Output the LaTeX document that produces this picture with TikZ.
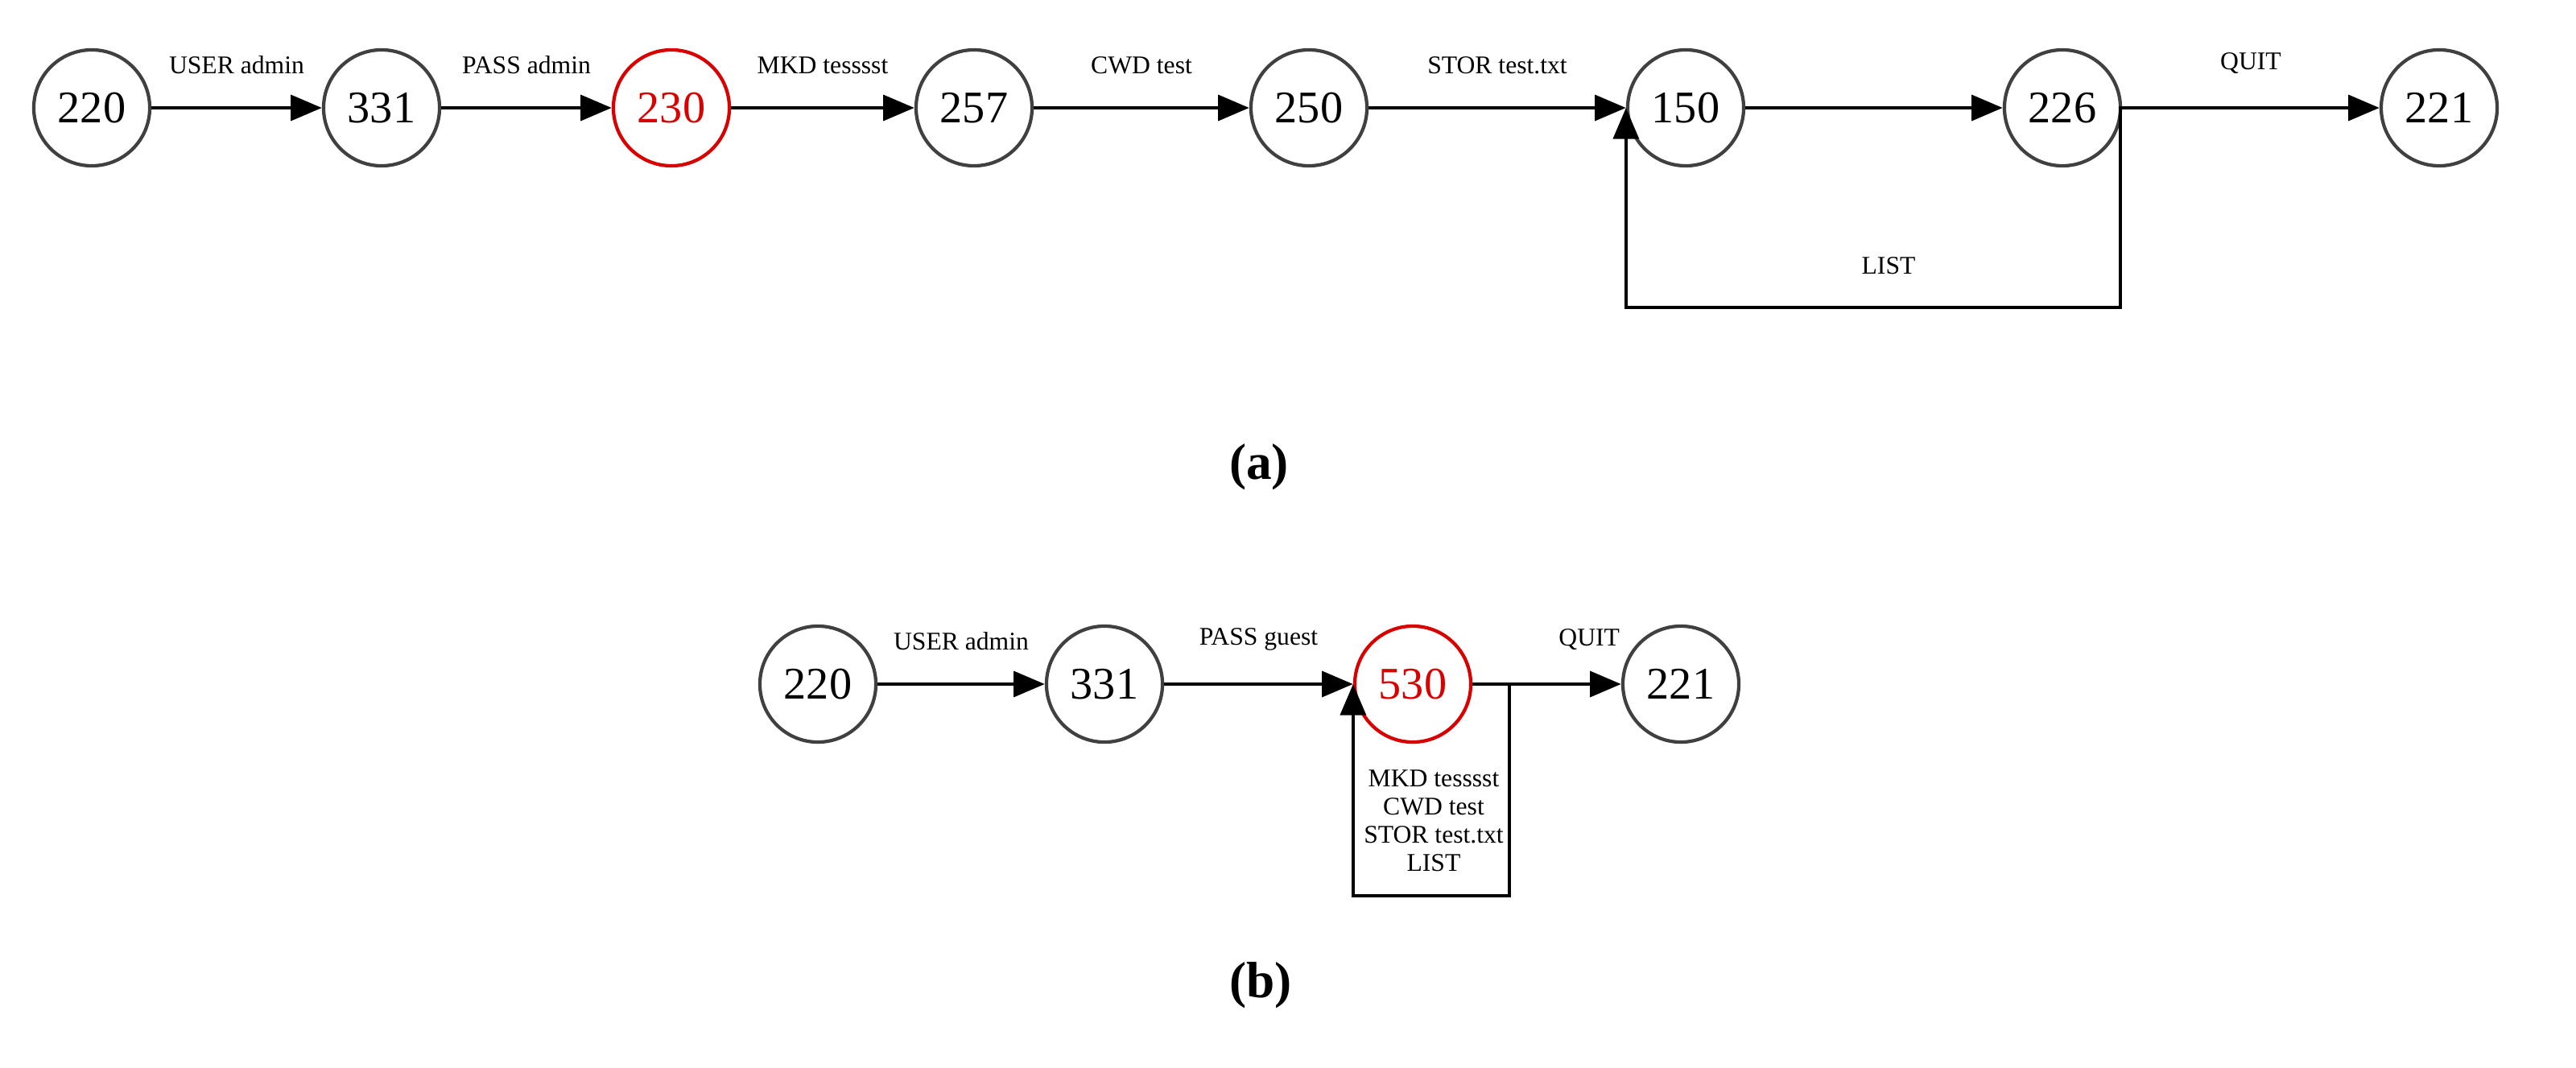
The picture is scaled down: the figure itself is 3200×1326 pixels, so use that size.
\documentclass[tikz,border=0pt]{standalone}
\usepackage{fontspec}
\setmainfont{Liberation Serif}
\usetikzlibrary{arrows.meta}
\begin{document}
\begin{tikzpicture}[x=0.01cm,y=0.01cm,
  st/.style={circle,draw=black!75,line width=1.2pt,minimum size=1.44cm,inner sep=0,font=\fontsize{16}{18}\selectfont},
  red st/.style={st,draw=red!85!black,text=red!85!black},
  ed/.style={line width=1.3pt,-{Triangle[length=11pt,width=9pt]}},
  lb/.style={font=\fontsize{9}{10.5}\selectfont,align=center},
  sublabel/.style={font=\fontsize{18}{20}\selectfont}]
\useasboundingbox (0,0) rectangle (3200,1326);
% (a)
\node[st] (a1) at (114,1192) {220};
\node[st] (a2) at (474,1192) {331};
\node[red st] (a3) at (834,1192) {230};
\node[st] (a4) at (1210,1192) {257};
\node[st] (a5) at (1626,1192) {250};
\node[st] (a6) at (2094,1192) {150};
\node[st] (a7) at (2562,1192) {226};
\node[st] (a8) at (3030,1192) {221};
\draw[ed] (a1) -- node[lb,above=8pt]{USER admin} (a2);
\draw[ed] (a2) -- node[lb,above=8pt]{PASS admin} (a3);
\draw[ed] (a3) -- node[lb,above=8pt]{MKD tesssst} (a4);
\draw[ed] (a4) -- node[lb,above=8pt]{CWD test} (a5);
\draw[ed] (a5) -- node[lb,above=8pt]{STOR test.txt} (a6);
\draw[ed] (a6) -- (a7);
\draw[ed] (a7) -- node[lb,above=8pt]{QUIT} (a8);
\coordinate (l1) at (2634,944);
\coordinate (l2) at (a6.west |- l1);
\draw[ed] (a7.east) -| (l1) -- (l2) -- (a6.west);
\node[lb] (ll) at (2346,996) {LIST};
\node[sublabel] (ca) at (1564,746) {\textbf{(a)}};
% (b)
\node[st] (b1) at (1016,476) {220};
\node[st] (b2) at (1372,476) {331};
\node[red st] (b3) at (1755,476) {530};
\node[st] (b4) at (2088,476) {221};
\draw[ed] (b1) -- node[lb,above=8pt]{USER admin} (b2);
\draw[ed] (b2) -- node[lb,above=8pt]{PASS guest} (b3);
\draw[ed] (b3) -- node[lb,above=8pt,xshift=15]{QUIT} (b4);
\coordinate (m1) at (1875,476);
\coordinate (m2) at (1875,213);
\coordinate (m3) at (b3.west |- m2);
\draw[ed] (b3.east) -- (m1) -- (m2) -- (m3) -- (b3.west);
\node[lb,font=\fontsize{9}{10}\selectfont] (lt) at (1781,306) {MKD tesssst\\CWD test\\STOR test.txt\\LIST};
\node[sublabel] (cb) at (1566,102) {\textbf{(b)}};
\end{tikzpicture}
\end{document}
